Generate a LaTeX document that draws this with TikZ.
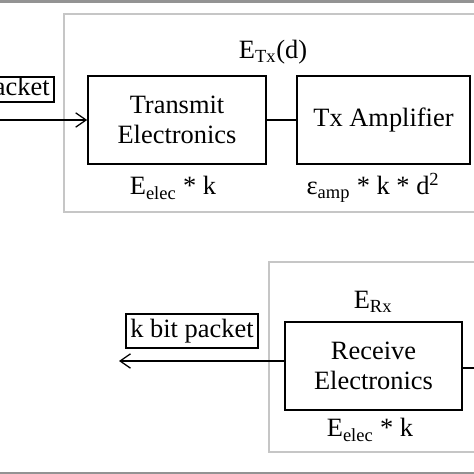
\documentclass[tikz,border=0pt]{standalone}
\usepackage{fontspec}
\setmainfont{Liberation Serif}
\usetikzlibrary{arrows.meta}
\begin{document}
\begin{tikzpicture}[
  font=\fontsize{18.8}{21.5}\selectfont,
  group/.style={draw=gray!45, line width=0.8pt},
  block/.style={draw=black, line width=1.2pt, rectangle, minimum width=4.4cm,
                minimum height=2.2cm, align=center, inner sep=0pt},
  pkt/.style={draw=black, line width=1.1pt, rectangle, minimum width=3.3cm,
              inner sep=0pt, align=center},
  lbl/.style={inner sep=0pt, align=center},
  link/.style={-, line width=0.9pt, black},
  flow/.style={-{Straight Barb[length=2.6mm,width=3.6mm]}, line width=0.9pt, black}
]
\useasboundingbox (0,0) rectangle (11.85,-11.85);
% crop bars
\fill[gray!85] (0,0) rectangle (11.85,-0.075);
\fill[gray!85] (0,-11.8) rectangle (11.85,-11.85);

% transmitter
\draw[group] (12.2,-0.35) -- (1.6,-0.35) -- (1.6,-5.3) -- (12.2,-5.3);
\node[lbl] (etx) at (6.825,-1.3) {E\textsubscript{Tx}(d)};
\node[block, minimum width=4.45cm] (txe) at (4.425,-3.0) {Transmit\\Electronics};
\node[block, minimum width=4.325cm] (txa) at (9.5875,-3.0) {Tx Amplifier};
\node[pkt, minimum height=0.625cm] (pktin) at (-0.3,-2.2375) {k bit packet};
\node[lbl] (etxe) at (4.325,-4.7) {E\textsubscript{elec} * k};
\node[lbl] (etxa) at (9.325,-4.7) {ε\textsubscript{amp} * k * d\textsuperscript{2}};
\coordinate (txin) at (-0.5,-3.0);

\draw[flow] (txin) -- (txe.west);
\draw[link] (txe) -- (txa);

% receiver
\draw[group] (12.2,-6.55) -- (6.725,-6.55) -- (6.725,-11.3) -- (12.2,-11.3);
\node[lbl] (erx) at (9.325,-7.55) {E\textsubscript{Rx}};
\node[block, minimum width=4.425cm] (rxe) at (9.3375,-9.15) {Receive\\Electronics};
\node[pkt, minimum height=0.85cm] (pktout) at (4.8,-8.275) {k bit packet};
\node[lbl] (erxe) at (9.25,-10.75) {E\textsubscript{elec} * k};
\coordinate (rxout) at (2.975,-9.025);
\coordinate (rxin) at (12.2,-9.2);

\draw[flow] (rxe.west |- rxout) -- (rxout);
\draw[link] (rxin) -- (rxe.east |- rxin);
\end{tikzpicture}
\end{document}
